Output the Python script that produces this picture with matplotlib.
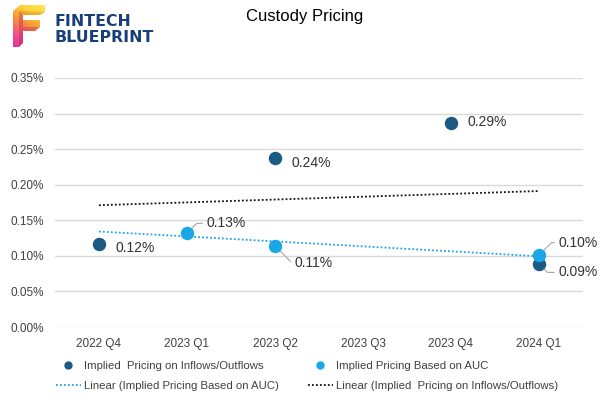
import numpy as np
import matplotlib
matplotlib.use("Agg")
import matplotlib.pyplot as plt
from matplotlib.path import Path
from matplotlib.patches import PathPatch, Polygon
from matplotlib.lines import Line2D
from matplotlib.colors import LinearSegmentedColormap

plt.rcParams['font.family'] = ['Liberation Sans', 'DejaVu Sans']

categories = ["2022 Q4", "2023 Q1", "2023 Q2", "2023 Q3", "2023 Q4", "2024 Q1"]
flows_x = [0, 2, 4, 5]
flows_vals = [0.1166, 0.237, 0.2865, 0.0885]      # percent
flows_labels = ["0.12%", "0.24%", "0.29%", "0.09%"]
auc_x = [1, 2, 5]
auc_vals = [0.132, 0.114, 0.101]                   # percent
auc_labels = ["0.13%", "0.11%", "0.10%"]
yticks = [0.00, 0.05, 0.10, 0.15, 0.20, 0.25, 0.30, 0.35]

dark = "#1B5A82"
light = "#1AA7E6"

fig = plt.figure(figsize=(6, 4), dpi=100)
ax = fig.add_axes([55/600, 1-327/400, 528/600, 249/400])

ax.set_xlim(-0.5, 5.5)
ax.set_ylim(0, 0.35)
ax.set_yticks(yticks)
ax.set_yticklabels([f"{v:.2f}%" for v in yticks])
ax.set_xticks(range(len(categories)))
ax.set_xticklabels(categories)
for s in ax.spines.values():
    s.set_visible(False)
ax.tick_params(length=0, labelsize=8.5, colors="#404040", pad=8)
ax.tick_params(axis='x', pad=8)
ax.grid(axis='y', color="#D9D9D9", linewidth=1)
ax.set_axisbelow(True)

# trendlines (linear regression on category index)
xs = np.array([0, 5])
p_auc = np.polyfit(auc_x, auc_vals, 1)
p_flow = np.polyfit(flows_x, flows_vals, 1)
ax.plot(xs, np.polyval(p_auc, xs), color=light, linestyle=(0, (1, 1.2)), linewidth=1.3, zorder=2)
ax.plot(xs, np.polyval(p_flow, xs), color="#111111", linestyle=(0, (1, 1.2)), linewidth=1.3, zorder=2)

ax.scatter(flows_x, flows_vals, s=75, color=dark, zorder=3)
ax.scatter(auc_x, auc_vals, s=75, color=light, zorder=4)

fs = 10
tc = "#333333"
lead = dict(arrowstyle="-", color="#A6A6A6", lw=0.8, shrinkA=1, shrinkB=5)
# flows labels
offs_flow = [(12, -3), (12, -3), (12, 1), None]
for x, v, lab, off in zip(flows_x, flows_vals, flows_labels, offs_flow):
    if off is None:
        ax.annotate(lab, (x, v), xytext=(14, -6), textcoords="offset points",
                    fontsize=fs, color=tc, va="center",
                    arrowprops=dict(lead, connectionstyle="angle,angleA=0,angleB=-45,rad=0"))
    else:
        ax.annotate(lab, (x, v), xytext=off, textcoords="offset points",
                    fontsize=fs, color=tc, va="center")
# auc labels with leader lines
offs_auc = [((14, 7), 45), ((14, -12), -45), ((14, 9), 45)]
for x, v, lab, ((dx, dy), ang) in zip(auc_x, auc_vals, auc_labels, offs_auc):
    ax.annotate(lab, (x, v), xytext=(dx, dy), textcoords="offset points",
                fontsize=fs, color=tc, va="center",
                arrowprops=dict(lead, connectionstyle=f"angle,angleA=0,angleB={ang},rad=0"))

# legend
handles = [
    Line2D([], [], marker='o', linestyle='none', color=dark, markersize=5),
    Line2D([], [], color=light, linestyle=(0, (1, 1.2)), linewidth=1.3),
    Line2D([], [], marker='o', linestyle='none', color=light, markersize=5),
    Line2D([], [], color="#111111", linestyle=(0, (1, 1.2)), linewidth=1.3),
]
labels = [
    "Implied  Pricing on Inflows/Outflows",
    "Linear (Implied Pricing Based on AUC)",
    "Implied Pricing Based on AUC",
    "Linear (Implied  Pricing on Inflows/Outflows)",
]
fig.legend(handles, labels, ncol=2, loc="center", bbox_to_anchor=(307/600, 1-376/400),
           frameon=False, fontsize=8.2, labelcolor="#404040", handlelength=2.2,
           handletextpad=0.3, columnspacing=2.5, labelspacing=0.85)

fig.text(305/600, 1-17/400, "Custody Pricing", ha="center", va="center",
         fontsize=12, color="#000000")

# logo
lax = fig.add_axes([11/600, 1-48/400, 36/600, 44/400])
lax.set_xlim(0, 36)
lax.set_ylim(0, 44)
lax.axis('off')
verts = [(2, 1), (2, 37), (9, 43), (34, 43), (34, 36), (29, 33), (12, 33), (12, 28),
         (29, 28), (29, 21), (24, 17), (12, 17), (12, 5), (8, 1), (2, 1)]
codes = [Path.MOVETO] + [Path.LINETO] * (len(verts) - 2) + [Path.CLOSEPOLY]
path = Path(verts, codes)
patch = PathPatch(path, facecolor='none', edgecolor='none')
lax.add_patch(patch)
cmap = LinearSegmentedColormap.from_list("g", ["#E62AA0", "#F0508A", "#F98C3A", "#FFD23A", "#FFE95A"])
gx, gy = np.meshgrid(np.linspace(0, 1, 100), np.linspace(0, 1, 100))
img = lax.imshow(0.7 * gy + 0.3 * gx, cmap=cmap, extent=(0, 36, 0, 44), origin='lower', aspect='auto')
img.set_clip_path(patch)
lax.add_patch(Polygon([(8, 1), (12, 5), (12, 33), (8, 37)], closed=True, facecolor="#B0106F", alpha=0.35, edgecolor='none'))
lax.add_patch(Polygon([(8, 37), (12, 33), (29, 33), (34, 36)], closed=True, facecolor="#C06000", alpha=0.25, edgecolor='none'))
lax.add_patch(Polygon([(12, 17), (24, 17), (29, 21), (12, 21)], closed=True, facecolor="#B02060", alpha=0.3, edgecolor='none'))

fig.text(55/600, 1-21/400, "FINTECH", fontsize=11.3, fontweight='bold', color="#173F78", va="center",
         family=['DejaVu Sans'])
fig.text(55/600, 1-38/400, "BLUEPRINT", fontsize=11.3, fontweight='bold', color="#173F78", va="center",
         family=['DejaVu Sans'])

fig.savefig("out.png", dpi=100)
